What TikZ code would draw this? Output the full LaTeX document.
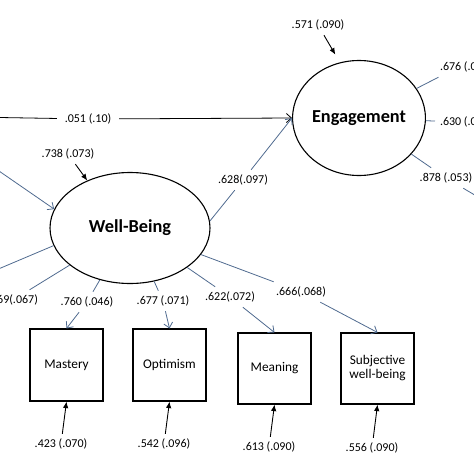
\documentclass[tikz,border=0pt]{standalone}
\usepackage{fontspec}
\setmainfont{Carlito}
\definecolor{PathBlue}{HTML}{4F6A8F}
\usetikzlibrary{arrows.meta, shapes.geometric}
\tikzset{
	latent/.style={ellipse, draw, line width=1.1pt, inner sep=0pt, font=\fontsize{18.3}{20}\selectfont\bfseries},
	indicator/.style={rectangle, draw, line width=1.1pt, minimum width=73pt, minimum height=72pt, inner sep=0pt, align=center, font=\fontsize{13.3}{14}\selectfont},
	est/.style={inner sep=2pt, outer sep=3pt, font=\fontsize{12}{13}\selectfont},
	load/.style={PathBlue, line width=0.8pt},
	loadarrow/.style={load, -{Straight Barb[length=5pt, width=9pt]}},
	errarrow/.style={black, line width=0.9pt, -{Latex[length=6.5pt, width=5.5pt]}}
}

\begin{document}
\begin{tikzpicture}[x=1pt, y=-1pt]
		\useasboundingbox (0,0) rectangle (474,474);
		
		% latent variables
		\node[latent, minimum width=160pt, minimum height=111pt] (WB) at (130,228) {Well-Being};
		\node[latent, minimum width=124pt, minimum height=115pt] (Eng) at (359,118) {Engagement};
		
		% indicators
		\node[indicator] (Mas) at (66.5,365) {Mastery};
		\node[indicator] (Opt) at (169.5,365) {Optimism};
		\node[indicator, minimum height=71pt] (Mea) at (274.5,368.5) {Meaning};
		\node[indicator, minimum height=71pt] (Sub) at (377.5,368.5) {Subjective\\well-being};
		
		% estimates
		\node[est, outer sep=6pt] (l051) at (88,119) {.051 (.10)};
		\node[est] (l738) at (68,154) {.738 (.073)};
		\node[est] (l571) at (318,25) {.571 (.090)};
		\node[est] (l628) at (243,180) {.628(.097)};
		\node[est] (l669) at (13,300) {.669(.067)};
		\node[est] (l760) at (87,302) {.760 (.046)};
		\node[est] (l677) at (163,301) {.677 (.071)};
		\node[est] (l622) at (230,297) {.622(.072)};
		\node[est] (l666) at (301,292) {.666(.068)};
		\node[est, anchor=west] (l676) at (435,67) {.676 (.0};
		\node[est, anchor=west] (l630) at (435,122) {.630 (.0};
		\node[est] (l878) at (446,178) {.878 (.053)};
		
		\node[est] (e423) at (61,444) {.423 (.070)};
		\node[est] (e542) at (164,444) {.542 (.096)};
		\node[est] (e613) at (269,447) {.613 (.090)};
		\node[est] (e556) at (372,448) {.556 (.090)};
		
		% paths leaving the picture
		\coordinate (inA) at (-30,151);
		\coordinate (inC) at (-30,117);
		\coordinate (outB) at (-30,281);
		\coordinate (outD) at (500,210);
		
		\draw[black, line width=0.8pt] (inC) -- (l051);
		\draw[black, line width=0.8pt, -{Straight Barb[length=5pt, width=9pt]}] (l051) -- (Eng.west);
		
		\draw[loadarrow] (inA) -- (WB.166);
		\draw[load] (WB.193) -- (outB);
		\draw[load] (WB) -- (l669);
		
		\draw[load] (WB.5) -- (l628);
		\draw[loadarrow] (l628) -- (Eng.west);
		
		\draw[load] (WB) -- (l760);
		\draw[loadarrow] (l760) -- (Mas.north);
		\draw[load] (WB) -- (l677);
		\draw[loadarrow] (l677) -- (Opt.north);
		\draw[load] (WB) -- (l622);
		\draw[loadarrow] (l622) -- (Mea.north);
		\draw[load] (WB) -- (l666);
		\draw[loadarrow] (l666) -- (Sub.north);
		
		\draw[load] (Eng) -- (l676);
		\draw[load] (Eng) -- (l630);
		\draw[load] (Eng) -- (l878);
		\draw[load] (l878) -- (outD);
		
		% errors
		\draw[errarrow] (l738) -- (WB.132);
		\draw[errarrow, shorten >=9pt] (l571) -- (Eng.109);
		\draw[errarrow] (e423) -- (Mas.south);
		\draw[errarrow] (e542) -- (Opt.south);
		\draw[errarrow] (e613) -- (Mea.south);
		\draw[errarrow] (e556) -- (Sub.south);
	\end{tikzpicture}
\end{document}
